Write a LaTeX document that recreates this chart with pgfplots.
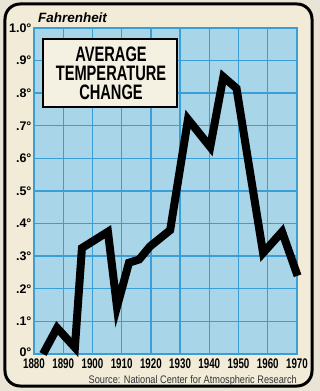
\documentclass[border=0pt]{standalone}
\usepackage{fontspec}
\setmainfont{Liberation Sans}
\usepackage{pgfplots}
\pgfplotsset{compat=1.18}
\newfontfamily\condbold[FakeStretch=0.7]{Liberation Sans Bold}
\newfontfamily\srcfont[FakeStretch=0.84]{Liberation Sans}
\newfontfamily\fahr{Liberation Sans Bold Italic}
\newfontfamily\ybold{Liberation Sans Bold}
\definecolor{cream}{HTML}{F1EBD8}
\definecolor{outer}{HTML}{E9E4D6}
\definecolor{boxcream}{HTML}{F4F0E2}
\definecolor{plotbg}{HTML}{A8D5E7}
\definecolor{gridblue}{HTML}{3A9FD6}
\begin{document}
\begin{tikzpicture}
\useasboundingbox (-34bp,-37bp) rectangle (286bp,354bp);
\fill[outer] (-34bp,-37bp) rectangle (286bp,354bp);
\draw[line width=3bp, rounded corners=15bp, fill=cream] (-29bp,-32bp) rectangle (278bp,350bp);
\begin{axis}[
  at={(0,0)}, anchor=south west,
  scale only axis, width=263bp, height=326bp,
  xmin=1880, xmax=1970, ymin=0, ymax=1,
  xtick={1880,1890,1900,1910,1920,1930,1940,1950,1960,1970},
  xticklabels={1880,1890,1900,1910,1920,1930,1940,1950,1960,1970},
  ytick={0,0.1,0.2,0.3,0.4,0.5,0.6,0.7,0.8,0.9,1.0},
  yticklabels={\raisebox{4bp}{0°},.1°,.2°,.3°,.4°,.5°,.6°,.7°,.8°,.9°,1.0°},
  grid=major,
  major grid style={gridblue, line width=1.4bp},
  axis line style={gridblue, line width=1.4bp},
  major tick length=0pt,
  axis background/.style={fill=plotbg},
  xticklabel style={font=\condbold\fontsize{14}{14}\selectfont, yshift=-1.5bp},
  yticklabel style={font=\ybold\fontsize{12.5}{12.5}\selectfont, xshift=1bp},
  clip=false,
]
\addplot[black, line width=8bp, line join=miter] coordinates {
(1883.1,0.0)
(1887.9,0.08)
(1894.0,0.02)
(1896.4,0.325)
(1905.3,0.375)
(1908.4,0.145)
(1912.5,0.28)
(1916.0,0.29)
(1919.7,0.33)
(1926.6,0.38)
(1932.7,0.72)
(1940.3,0.635)
(1944.8,0.85)
(1949.3,0.815)
(1958.4,0.31)
(1964.9,0.375)
(1970.2,0.24)
};
\end{axis}
\node[draw, line width=1.6bp, fill=boxcream, minimum width=134bp, minimum height=68bp, inner sep=0pt] at (76bp,281bp) {};
\node[align=center, font=\condbold\fontsize{21}{19}\selectfont, inner sep=0pt, anchor=center] at (77bp,280.5bp) {AVERAGE\\TEMPERATURE\\CHANGE};
\node[font=\fahr\fontsize{13.5}{13.5}\selectfont, anchor=base west, inner sep=0pt] at (4bp,331bp) {Fahrenheit};
\node[font=\srcfont\fontsize{11}{11}\selectfont, anchor=base east, inner sep=0pt, text=black!80] at (263bp,-29bp) {Source: National Center for Atmospheric Research};
\end{tikzpicture}
\end{document}
